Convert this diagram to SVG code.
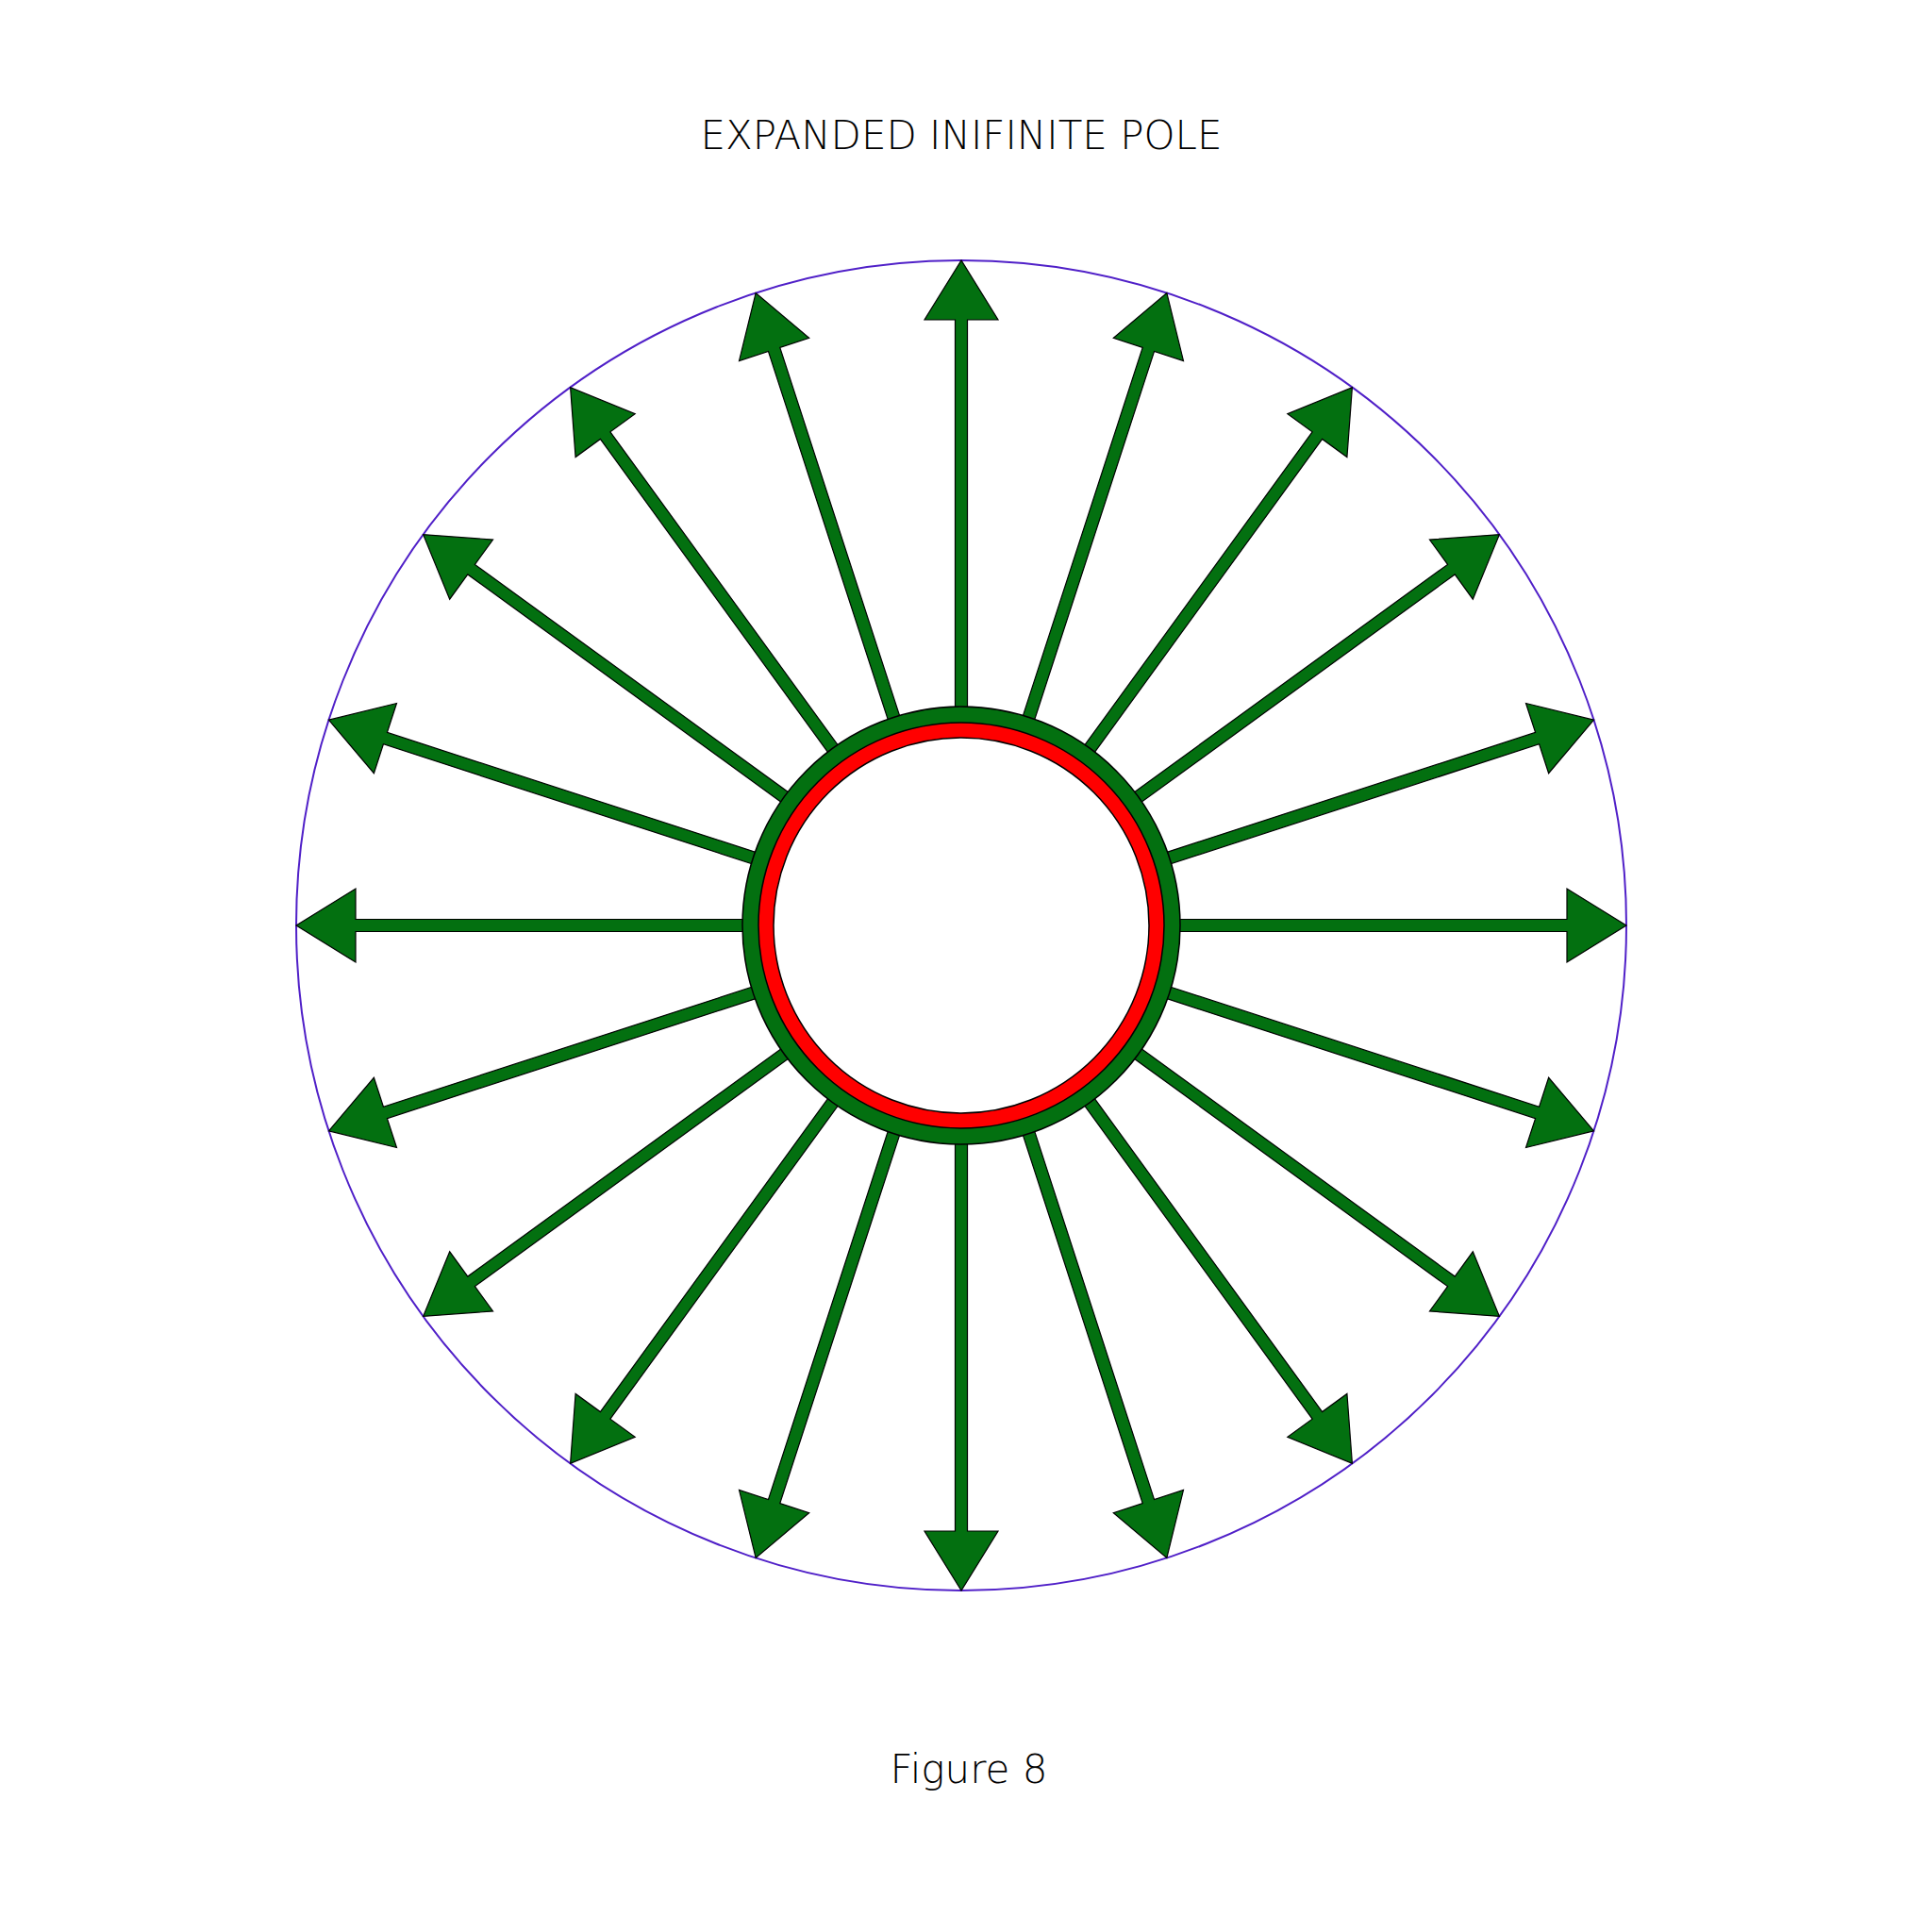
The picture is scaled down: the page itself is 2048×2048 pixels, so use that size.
<svg xmlns="http://www.w3.org/2000/svg" xmlns:xlink="http://www.w3.org/1999/xlink" width="2048" height="2048" viewBox="0 0 2048 2048">
<style>
.arr{fill:#037010;stroke:#000;stroke-width:1.2;stroke-linejoin:miter}
.t{font-family:"DejaVu Sans","Liberation Sans",sans-serif;fill:#000}
</style>
<defs>
<polygon id="a" class="arr" points="228,-6.5 642,-6.5 642,-39 705,0 642,39 642,6.5 228,6.5"/>
</defs>
<rect width="2048" height="2048" fill="#fff"/>
<text class="t" x="1019" y="158" font-size="42" text-anchor="middle" font-weight="200">EXPANDED INIFINITE POLE</text>
<g id="boundary"><circle cx="1019" cy="981" r="705" fill="none" stroke="#5020c8" stroke-width="2"/></g>
<g id="connectors" transform="translate(1019,981)">
<use xlink:href="#a" transform="rotate(0)"/><use xlink:href="#a" transform="rotate(18)"/><use xlink:href="#a" transform="rotate(36)"/><use xlink:href="#a" transform="rotate(54)"/><use xlink:href="#a" transform="rotate(72)"/><use xlink:href="#a" transform="rotate(90)"/><use xlink:href="#a" transform="rotate(108)"/><use xlink:href="#a" transform="rotate(126)"/><use xlink:href="#a" transform="rotate(144)"/><use xlink:href="#a" transform="rotate(162)"/><use xlink:href="#a" transform="rotate(180)"/><use xlink:href="#a" transform="rotate(198)"/><use xlink:href="#a" transform="rotate(216)"/><use xlink:href="#a" transform="rotate(234)"/><use xlink:href="#a" transform="rotate(252)"/><use xlink:href="#a" transform="rotate(270)"/><use xlink:href="#a" transform="rotate(288)"/><use xlink:href="#a" transform="rotate(306)"/><use xlink:href="#a" transform="rotate(324)"/><use xlink:href="#a" transform="rotate(342)"/>
</g>
<g id="pole">
<circle cx="1019" cy="981" r="232" fill="#037010" stroke="#000" stroke-width="1.5"/>
<circle cx="1019" cy="981" r="215" fill="#ff0000" stroke="#000" stroke-width="1.5"/>
<circle cx="1019" cy="981" r="199" fill="#fff" stroke="#000" stroke-width="1.5"/>
</g>
<text class="t" x="1027" y="1890" font-size="42" text-anchor="middle" font-weight="200">Figure 8</text>
</svg>
